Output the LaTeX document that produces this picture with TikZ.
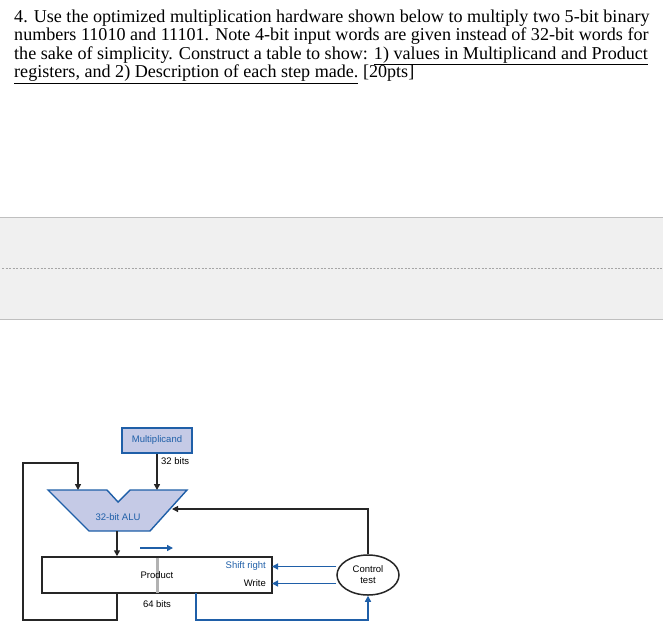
\documentclass[tikz,border=0pt]{standalone}
\usepackage{fontspec}
\setmainfont{Liberation Serif}
\newfontfamily\diag{Liberation Sans}
\usetikzlibrary{arrows.meta,shapes.geometric}
\definecolor{bl}{HTML}{1F5FA8}
\definecolor{fillb}{HTML}{C5CAE6}
\tikzset{
  tline/.style={anchor=base west,inner sep=0pt,font=\fontsize{18.1}{20}\selectfont},
  lbl/.style={inner sep=0pt,font=\diag\fontsize{9.5}{11}\selectfont},
  blk/.style={draw=black!85,line width=1.5pt},
  bar/.style={-{Triangle[length=6pt,width=6pt]}},
  bline/.style={draw=bl,line width=1.4pt,bar},
}
\begin{document}
\begin{tikzpicture}[x=1pt,y=-1pt]
\useasboundingbox (0,0) rectangle (663,632);
\node[tline] (l1) at (14,22) {4. Use the optimized multiplication hardware shown below to multiply two 5-bit binary};
\node[tline] (l2) at (14,40.5) {numbers 11010 and 11101. Note 4-bit input words are given instead of 32-bit words for};
\node[tline] (l3) at (14,59) {the sake of simplicity. Construct a table to show: \underline{1) values in Multiplicand and Product}};
\node[tline] (l4) at (14,77.5) {\underline{registers, and 2) Description of each step made.} [20pts]};
\fill[black!6] (0,217) rectangle (663,319);
\draw[black!25,line width=1pt] (0,217) -- (663,217) (0,319) -- (663,319);
\draw[black!35,dashed,dash pattern=on 2pt off 1.5pt,line width=0.9pt] (2,268.5) -- (663,268.5);
% diagram
\node[draw=bl,fill=fillb,line width=1.4pt,minimum width=70pt,minimum height=25pt,inner sep=0pt,font=\diag\fontsize{9.5}{11}\selectfont,text=bl] (mc) at (157,440.5) {Multiplicand};
\draw[fill=fillb,draw=bl,line width=1.4pt] (48,490) -- (107,490) -- (118,502) -- (130,490) -- (187,490) -- (150,531) -- (89,531) -- cycle;
\node[lbl,text=bl] (alu) at (118,517) {32-bit ALU};
\coordinate (aluR) at (172,509);
\node[draw=black!85,line width=1.5pt,minimum width=230pt,minimum height=36pt,inner sep=0pt] (prod) at (157,575) {};
\draw[black!30,line width=3pt] (157,557.5) -- (157,592.5);
\node[lbl,inner sep=1pt] (pt) at (157,575) {Product};
\node[lbl,text=bl,anchor=east] (sr) at (266,566.5) {Shift right};
\node[lbl,anchor=east] (wr) at (266,583.5) {Write};
\node[draw=black!85,line width=1.5pt,ellipse,minimum width=62pt,minimum height=40pt,inner sep=0pt,align=center,font=\diag\fontsize{9.5}{11}\selectfont] (ct) at (368,575) {Control\\test};
\node[lbl,anchor=west] (b32) at (161,461) {32 bits};
\node[lbl] (b64) at (157,604) {64 bits};
\draw[blk,bar] (mc.south) -- (157,490);
\draw[blk,bar] (117,531) -- (prod.north -| 117,0);
\draw[blk,bar] (117,593) -- (117,620) -- (23,620) -- (23,463) -- (78,463) -- (78,490);
\draw[blk,bar,line width=1.2pt] (ct.north) -- (368,509) -- (aluR);
\draw[bline] (140,548) -- (173,548);
\draw[bline] (ct.west |- 0,566.5) -- (272,566.5);
\draw[bline] (ct.west |- 0,583.5) -- (272,583.5);
\draw[bline] (196,593) -- (196,620) -- (368,620) -- (ct.south);
\end{tikzpicture}
\end{document}
